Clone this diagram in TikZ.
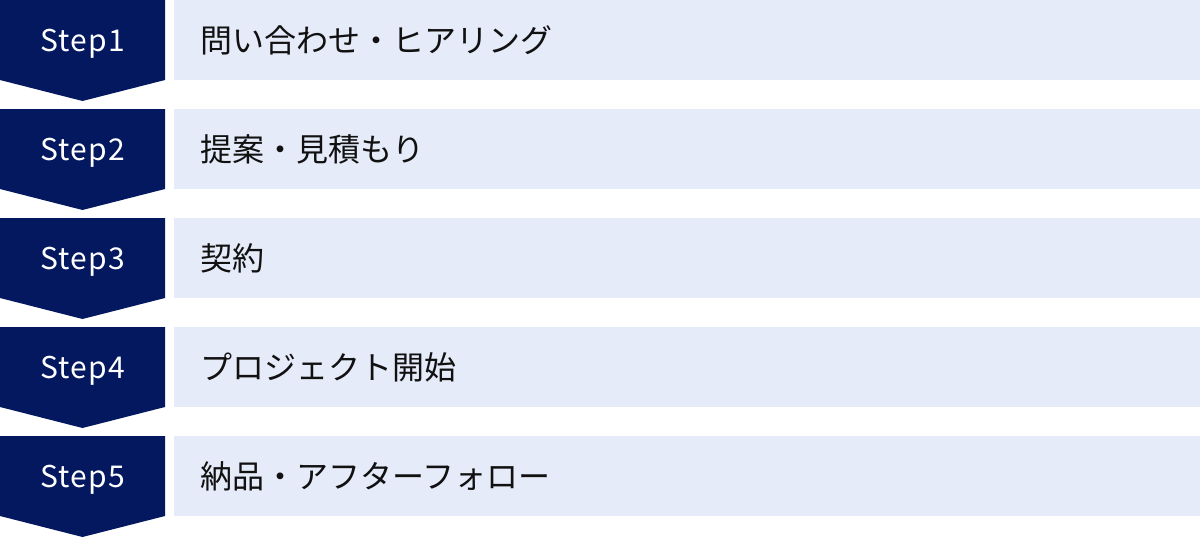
\documentclass[tikz,border=0pt]{standalone}
\usepackage{fontspec}
\setmainfont{Noto Sans}
\newfontfamily\jpfont{Noto Sans CJK JP}
\newfontfamily\stepfont[LetterSpace=4]{Noto Sans CJK JP}
\definecolor{navy}{HTML}{04185F}
\definecolor{pale}{HTML}{E5EBF8}
\definecolor{ink}{HTML}{111111}
\tikzset{
  stepshape/.style={fill=navy, draw=none},
  stepbox/.style={fill=pale, draw=none},
  steplabel/.style={text=white, font=\stepfont\fontsize{30}{33}\selectfont, inner sep=0pt, anchor=base},
  desclabel/.style={text=ink, font=\jpfont\fontsize{32}{35}\selectfont, inner sep=0pt, anchor=west},
}
\begin{document}
\begin{tikzpicture}[x=1pt,y=-1pt]
\useasboundingbox (0,0) rectangle (1200,538);
\foreach \i/\t in {1/問い合わせ・ヒアリング, 2/提案・見積もり, 3/契約, 4/プロジェクト開始, 5/納品・アフターフォロー}{
  \pgfmathsetmacro{\y}{(\i-1)*109}
  \fill[stepshape] (0,\y) -- (165,\y) -- (165,\y+80) -- (82.5,\y+101) -- (0,\y+80) -- cycle;
  \fill[stepbox] (174,\y) rectangle (1200,\y+80);
  \node[steplabel] (s\i) at (82.5,\y+51.5) {Step\i};
  \node[desclabel] (d\i) at (200,\y+40) {\t};
}
\end{tikzpicture}
\end{document}
